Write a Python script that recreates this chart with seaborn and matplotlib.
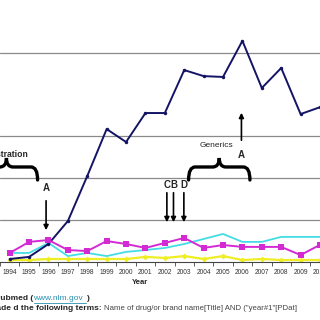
import matplotlib.pyplot as plt
import seaborn as sns
from matplotlib.lines import Line2D
from matplotlib.path import Path
from matplotlib.patches import PathPatch

# values (y in axis units, gridlines at 20/40/60/100)
years = list(range(1994, 2011))
navy_vals = [1.2, 2.2, 8.4, 19.4, 41.0, 63.5, 57.3, 71.2, 71.2, 91.8,
             88.9, 88.5, 105.8, 83.2, 92.8, 70.7, 74.0]
magenta_vals = [4.1, 9.4, 10.3, 5.5, 5.0, 9.8, 8.4, 6.5, 8.9, 11.3,
                6.5, 7.9, 7.0, 7.0, 7.0, 3.1, 8.0]
cyan_vals = [4.1, 4.1, 8.9, 2.6, 4.1, 2.6, 4.6, 5.5, 6.5, 8.4,
             10.8, 13.2, 9.4, 9.4, 11.8, 11.8, 11.8]
yellow_vals = [0.7, 0.7, 1.2, 1.2, 1.2, 1.2, 1.2, 2.2, 1.7, 2.6,
               1.2, 2.6, 0.7, 1.2, 0.7, 0.7, 0.7]
grid_vals = [20, 40, 60, 100]
year_labels = [str(y) for y in years]

sns.set_style("white")
plt.rcParams['font.family'] = ['Liberation Sans', 'DejaVu Sans']

fig = plt.figure(figsize=(3.2, 3.2), dpi=100)
ax = fig.add_axes([0, 58.5 / 320, 1, 261.5 / 320])

# helpers: picture pixels -> data coords
def px(x):
    return 1994 + (x - 2.45) / 20.55


def py(y):
    return (261.5 - y) / 2.085


sns.lineplot(x=years, y=yellow_vals, color='#eeee22', lw=1.6, marker='D',
             markersize=3, markeredgewidth=0, ax=ax)
sns.lineplot(x=years, y=cyan_vals, color='#44dde6', lw=1.3, ax=ax)
sns.lineplot(x=years, y=navy_vals, color='#141466', lw=1.4, marker='o',
             markersize=2.5, markeredgewidth=0, ax=ax)
sns.lineplot(x=years, y=magenta_vals, color='#d42ad4', lw=1.4, marker='s',
             markersize=4.5, markeredgewidth=0, ax=ax)

ax.set_xlim(px(0), px(320))
ax.set_ylim(0, 125.4)
ax.set_yticks(grid_vals)
ax.yaxis.grid(True, color='#8a8a8a', lw=0.9)
ax.tick_params(axis='y', length=0, labelleft=False)
ax.set_xticks(years)
ax.set_xticklabels(year_labels, fontsize=4.8, color='#333333')
ax.set_xticks([y - 0.5 for y in years], minor=True)
ax.tick_params(axis='x', which='major', length=0, pad=5.5)
ax.tick_params(axis='x', which='minor', length=3, width=0.6, color='#444444',
               direction='out', bottom=True)
for s in ['left', 'right', 'top']:
    ax.spines[s].set_visible(False)
ax.spines['bottom'].set_color('#444444')
ax.spines['bottom'].set_linewidth(0.8)
ax.set_xlabel('')
ax.set_ylabel('')

arrow = dict(arrowstyle='-|>', color='black', lw=1.2, mutation_scale=7)

# left A arrow
ax.annotate('', xy=(px(41), py(233)), xytext=(px(41), py(198)), arrowprops=arrow)
ax.text(px(41), py(193), 'A', ha='center', va='bottom', fontsize=7,
        fontweight='bold')
# C, B, D arrows
for xx, lab in [(169, 'C'), (176, 'B'), (187, 'D')]:
    ax.annotate('', xy=(px(xx), py(225)), xytext=(px(xx), py(190)),
                arrowprops=arrow)
    ax.text(px(xx), py(190), lab, ha='center', va='bottom', fontsize=7,
            fontweight='bold')
# right A arrow (pointing up)
ax.annotate('', xy=(px(248), py(110)), xytext=(px(248), py(143)),
            arrowprops=arrow)
ax.text(px(248), py(150), 'A', ha='center', va='top', fontsize=7,
        fontweight='bold')
ax.text(px(222), py(146), 'Generics', ha='center', va='center', fontsize=6)
ax.text(px(22), py(155), 'Registration', ha='right', va='center', fontsize=6.2,
        fontweight='bold')


# horizontal curly braces (tip up, ends down), given in picture pixels
def brace(cx, w, y_end=180, y_arm=167, y_tip=158):
    h = w / 2
    pts = [(cx - h, y_end), (cx - h, y_arm), (cx - h + 7, y_arm),
           (cx - 7, y_arm), (cx, y_arm), (cx, y_tip),
           (cx, y_arm), (cx + 7, y_arm),
           (cx + h - 7, y_arm), (cx + h, y_arm), (cx + h, y_end)]
    codes = [Path.MOVETO, Path.CURVE3, Path.CURVE3,
             Path.LINETO, Path.CURVE3, Path.CURVE3,
             Path.CURVE3, Path.CURVE3,
             Path.LINETO, Path.CURVE3, Path.CURVE3]
    verts = [(px(x), py(y)) for x, y in pts]
    ax.add_patch(PathPatch(Path(verts, codes), fill=False, lw=2.4,
                           color='black', capstyle='round'))


brace(-1, 66)
brace(224.5, 65)

# axis title and source notes
fig.text(140 / 320, 1 - 283 / 320, 'Year', ha='center', va='center',
         fontsize=5.5, fontweight='bold')
fig.text(33 / 320, 1 - 299 / 320, 'Source: Pubmed (', ha='right', va='center',
         fontsize=6, fontweight='bold')
fig.text(33.5 / 320, 1 - 299 / 320, 'www.nlm.gov', ha='left', va='center',
         fontsize=6, color='#2a8fb0')
fig.add_artist(Line2D([33.5 / 320, 86 / 320], [1 - 303 / 320] * 2,
                      color='#2a8fb0', lw=0.6))
fig.text(86.5 / 320, 1 - 299 / 320, ')', ha='left', va='center',
         fontsize=6, fontweight='bold')
fig.text(102 / 320, 1 - 309 / 320, 'Search made d the following terms:',
         ha='right', va='center', fontsize=6, fontweight='bold')
fig.text(104 / 320, 1 - 309 / 320,
         'Name of drug/or brand name[Title] AND ("year#1"[PDat]',
         ha='left', va='center', fontsize=5.6, color='#444444')

fig.savefig('out.png', dpi=100)
